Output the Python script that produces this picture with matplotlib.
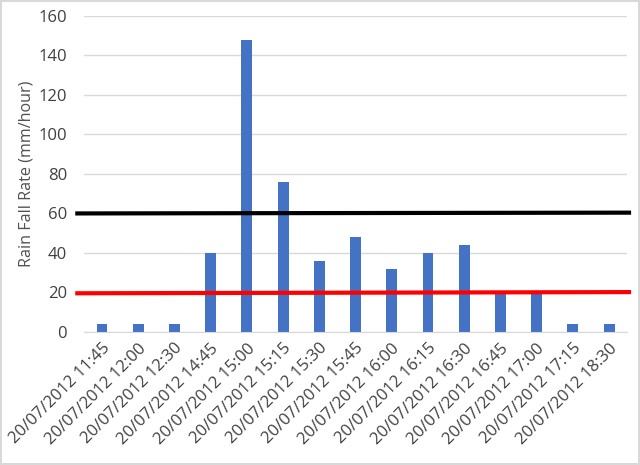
import matplotlib
matplotlib.use("Agg")
import matplotlib.pyplot as plt
import numpy as np

times = ["20/07/2012 11:45", "20/07/2012 12:00", "20/07/2012 12:30", "20/07/2012 14:45",
         "20/07/2012 15:00", "20/07/2012 15:15", "20/07/2012 15:30", "20/07/2012 15:45",
         "20/07/2012 16:00", "20/07/2012 16:15", "20/07/2012 16:30", "20/07/2012 16:45",
         "20/07/2012 17:00", "20/07/2012 17:15", "20/07/2012 18:30"]
rain_rate = [4, 4, 4, 40, 148, 76, 36, 48, 32, 40, 44, 20, 20, 4, 4]
yticks = [0, 20, 40, 60, 80, 100, 120, 140, 160]
upper_limit = [60, 60.4]   # black threshold (start, end)
lower_limit = [19.6, 20.2]  # red threshold (start, end)

plt.rcParams['font.family'] = ['Open Sans', 'DejaVu Sans']

fig = plt.figure(figsize=(6.4, 4.65), dpi=100)
fig.patch.set_edgecolor("#d9d9d9")
fig.patch.set_linewidth(1.5)
ax = fig.add_axes([0.131, 0.286, 0.849, 0.68])

x = np.arange(len(times))
ax.bar(x, rain_rate, width=0.3, color="#4472c4", zorder=2)

ax.plot([-0.68, len(times) - 0.45], upper_limit, color="black", lw=3, zorder=3, clip_on=False)
ax.plot([-0.68, len(times) - 0.45], lower_limit, color="#ff0000", lw=3, zorder=3, clip_on=False)

ax.set_xlim(-0.5, len(times) - 0.5)
ax.set_ylim(0, 160)
ax.set_yticks(yticks)
ax.set_xticks(x)
ax.set_xticklabels(times, rotation=45, ha="right", rotation_mode="anchor")
ax.tick_params(axis="both", length=0, labelsize=12, colors="#404040")
ax.tick_params(axis="y", pad=12)
ax.tick_params(axis="x", pad=6)
ax.set_ylabel("Rain Fall Rate (mm/hour)", fontsize=11.6, color="#505050", labelpad=3)

ax.grid(axis="y", color="#d9d9d9", lw=1, zorder=0)
for s in ["top", "right", "left"]:
    ax.spines[s].set_visible(False)
ax.spines["bottom"].set_color("#d9d9d9")

fig.savefig("out.png", dpi=100, edgecolor=fig.get_edgecolor())
